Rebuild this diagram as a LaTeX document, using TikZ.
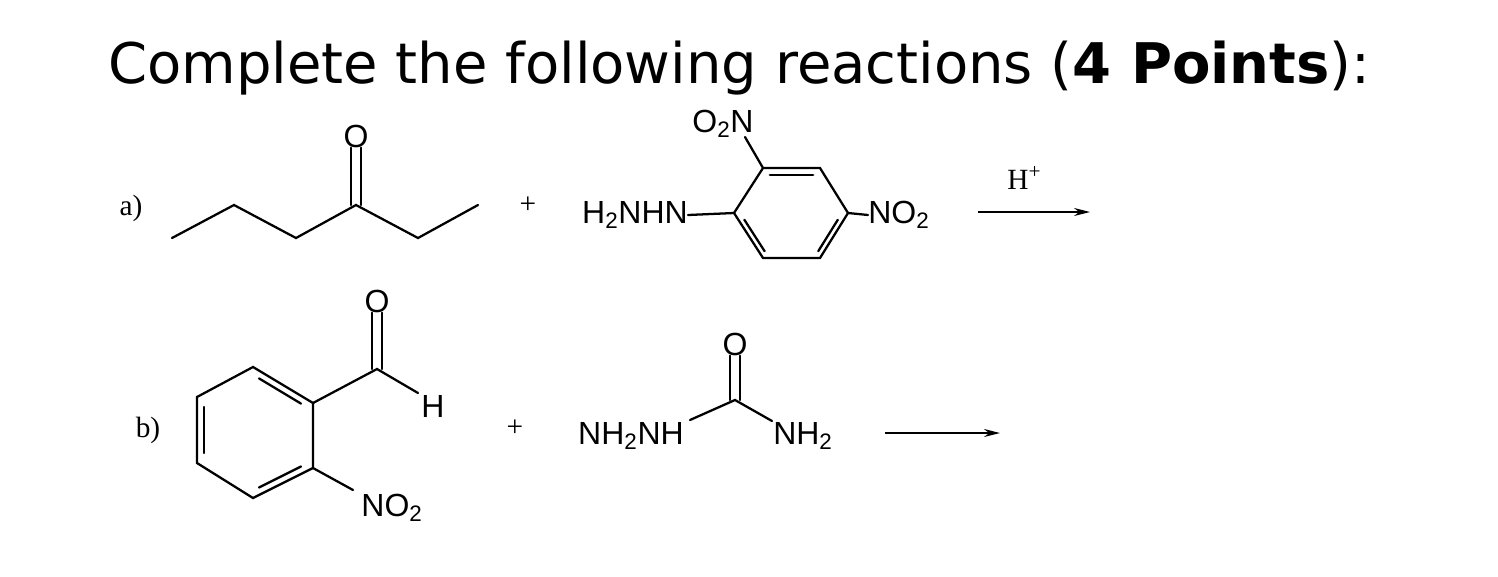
\documentclass[tikz,border=0pt]{standalone}
\usepackage{fontspec}
\setmainfont{Liberation Serif}
\newfontfamily\molf{Liberation Sans}
\newfontfamily\titf{DejaVu Sans}
\usetikzlibrary{arrows.meta,calc}
\begin{document}
\begin{tikzpicture}[x=0.75pt,y=-0.75pt,
  bond/.style={line width=1.7pt,line cap=round},
  atom/.style={inner sep=0pt,font=\molf\fontsize{24}{27}\selectfont},
  lbl/.style={inner sep=0pt,font=\fontsize{22}{26}\selectfont},
  rarrow/.style={line width=1.3pt,-{Stealth[length=12pt,width=6pt]}}]
\useasboundingbox (0,0) rectangle (1498,576);
\node[anchor=base west,inner sep=0pt,font=\titf\fontsize{42}{48}\selectfont] (title) at (108,83) {Complete the following reactions (\textbf{4 Points}):};
% ---- a)
\node[lbl] (la) at (131,208) {a)};
\coordinate (a1) at (172,238); \coordinate (a2) at (234,205); \coordinate (a3) at (296,238);
\coordinate (a4) at (356,205); \coordinate (a5) at (418,238); \coordinate (a6) at (478,205);
\node[atom] (aO) at (356,136) {O};
\draw[bond] (a1)--(a2)--(a3)--(a4)--(a5)--(a6);
\draw[bond] ([xshift=-3.5]a4)--([xshift=-3.5]aO.south);
\draw[bond] ([xshift=3.5]a4)--([xshift=3.5]aO.south);
\node[lbl] (pa) at (528,205) {+};
\node[atom,anchor=east] (hz) at (688,215) {H\textsubscript{2}NHN};
\coordinate (r1) at (734,213); \coordinate (r2) at (763,168); \coordinate (r3) at (820,168);
\coordinate (r4) at (848,213); \coordinate (r5) at (820,258); \coordinate (r6) at (763,258);
\draw[bond] (hz.east)--(r1);
\draw[bond] (r1)--(r2)--(r3)--(r4)--(r5)--(r6)--cycle;
\draw[bond] ($(r2)!0.12!(r3)+(0,7)$)--($(r3)!0.12!(r2)+(0,7)$);
\draw[bond] ($(r4)!0.15!(r5)+(-6,0)$)--($(r5)!0.15!(r4)+(-6,0)$);
\draw[bond] ($(r1)!0.15!(r6)+(6,0)$)--($(r6)!0.15!(r1)+(6,0)$);
\node[atom] (o2n) at (723,124) {O\textsubscript{2}N};
\draw[bond] (745,137)--(r2);
\node[atom,anchor=west] (no2a) at (868,215) {NO\textsubscript{2}};
\draw[bond] (r4)--(no2a.west);
\node[lbl] (hp) at (1024,178) {H\raisebox{8pt}{\fontsize{16}{16}\selectfont +}};
\coordinate (aa1) at (978,212); \coordinate (aa2) at (1090,212);
\draw[rarrow] (aa1)--(aa2);
% ---- b)
\node[lbl] (lb) at (148,430) {b)};
\coordinate (b1) at (253,367); \coordinate (b2) at (313,403); \coordinate (b3) at (313,468);
\coordinate (b4) at (253,498); \coordinate (b5) at (197,463); \coordinate (b6) at (197,397);
\draw[bond] (b1)--(b2)--(b3)--(b4)--(b5)--(b6)--cycle;
\draw[bond] ($(b1)!0.15!(b2)+(-3,6)$)--($(b2)!0.15!(b1)+(-3,6)$);
\draw[bond] ($(b3)!0.15!(b4)+(-3,-6)$)--($(b4)!0.15!(b3)+(-3,-6)$);
\draw[bond] ($(b5)!0.15!(b6)+(7,0)$)--($(b6)!0.15!(b5)+(7,0)$);
\coordinate (bc) at (377,369);
\node[atom] (bO) at (377,301) {O};
\draw[bond] (b2)--(bc)--(418,393);
\draw[bond] ([xshift=-3.5]bc)--([xshift=-3.5]bO.south);
\draw[bond] ([xshift=3.5]bc)--([xshift=3.5]bO.south);
\node[atom] (bH) at (433,406) {H};
\draw[bond] (b3)--(353,490);
\node[atom] (bno2) at (392,508) {NO\textsubscript{2}};
\node[lbl] (pb) at (515,428) {+};
\node[atom,anchor=east] (nhnh) at (684,436) {NH\textsubscript{2}NH};
\coordinate (sc) at (735,400);
\node[atom] (sO) at (735,344) {O};
\draw[bond] (690,420)--(sc)--(772,421);
\draw[bond] ([xshift=-3.5]sc)--([xshift=-3.5]sO.south);
\draw[bond] ([xshift=3.5]sc)--([xshift=3.5]sO.south);
\node[atom,anchor=west] (snh2) at (773,436) {NH\textsubscript{2}};
\coordinate (ba1) at (885,433); \coordinate (ba2) at (1000,433);
\draw[rarrow] (ba1)--(ba2);
\end{tikzpicture}
\end{document}
